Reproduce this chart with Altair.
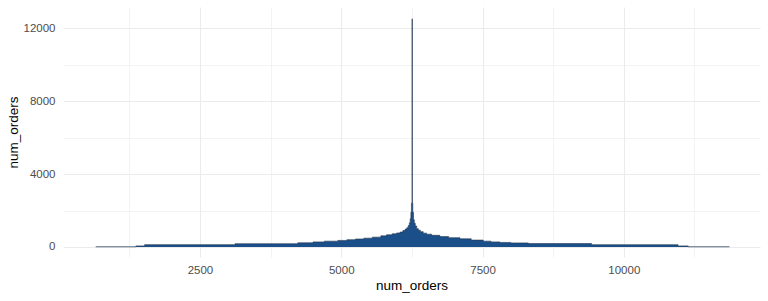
import altair as alt
import pandas as pd

# Step profile: left edge of each step and its height
bin_start = [655, 1366, 1520, 3120, 4230, 4500, 4700, 4940, 5100, 5250, 5400, 5550,
             5700, 5800, 5900, 5980, 6040, 6090, 6130, 6160, 6185, 6205, 6220, 6232,
             6242, 6252, 6258, 6266, 6278, 6292, 6310, 6335, 6365, 6400, 6450, 6511,
             6600, 6745, 6900, 7100, 7300, 7512, 7650, 7807, 8000, 8310, 9430, 10960,
             11140]
bin_count = [10, 60, 130, 180, 230, 280, 320, 360, 400, 440, 485, 540,
             610, 667, 720, 770, 820, 900, 980, 1060, 1180, 1330, 1550, 1900,
             2400, 12500, 2400, 1900, 1500, 1300, 1150, 1000, 920, 840, 760, 700,
             640, 570, 510, 450, 380, 320, 280, 250, 225, 190, 126, 60,
             10]
x_end = 11870

x_major = [2500, 5000, 7500, 10000]
x_minor = [1250, 3750, 6250, 8750, 11250]
y_major = [0, 4000, 8000, 12000]
y_minor = [2000, 6000, 10000]

df = pd.DataFrame({
    "num_orders": bin_start + [x_end],
    "count": bin_count + [bin_count[-1]],
})

xs = alt.Scale(domain=[76, 12410], nice=False, zero=False)
ys = alt.Scale(domain=[-548, 13151], nice=False, zero=False)

FONT = "Liberation Sans"
GRID = "#EBEBEB"

area = alt.Chart(df).mark_area(interpolate="step-after", color="#1B4F8A").encode(
    x=alt.X("num_orders:Q", scale=xs,
            axis=alt.Axis(values=x_major, grid=True, gridColor=GRID, gridWidth=1.1,
                          ticks=False, domain=False, labelPadding=7,
                          labelFontSize=11.5, labelColor="#4D4D4D", labelFont=FONT,
                          title="num_orders", titleFont=FONT, titleFontSize=13.5,
                          titleFontWeight="normal", titleColor="#000000", titlePadding=3,
                          format="d", orient="bottom")),
    y=alt.Y("count:Q", scale=ys,
            axis=alt.Axis(values=y_major, grid=True, gridColor=GRID, gridWidth=1.1,
                          ticks=False, domain=False, labelPadding=8,
                          labelFontSize=11.5, labelColor="#4D4D4D", labelFont=FONT,
                          title="num_orders", titleFont=FONT, titleFontSize=13.5,
                          titleFontWeight="normal", titleColor="#000000", titlePadding=3,
                          format="d", orient="left")),
)

line = alt.Chart(df).mark_line(interpolate="step-after", color="#25364D", strokeWidth=0.6).encode(
    x=alt.X("num_orders:Q", scale=xs),
    y=alt.Y("count:Q", scale=ys),
)

minor = alt.Chart(df).mark_point(opacity=0).encode(
    x=alt.X("num_orders:Q", scale=xs,
            axis=alt.Axis(values=x_minor, grid=True, gridColor=GRID, gridWidth=0.6,
                          labels=False, ticks=False, domain=False, title=None, orient="bottom")),
    y=alt.Y("count:Q", scale=ys,
            axis=alt.Axis(values=y_minor, grid=True, gridColor=GRID, gridWidth=0.6,
                          labels=False, ticks=False, domain=False, title=None, orient="left")),
)

chart = alt.layer(minor, area + line).resolve_axis(
    x="independent", y="independent"
).properties(
    width=697, height=250,
    padding={"left": 63, "top": 7, "right": 8, "bottom": 44},
    autosize=alt.AutoSizeParams(type="none"),
    background="white",
).configure_view(stroke=None)

chart.save("out.html", embed_options={"renderer": "svg", "actions": False})
